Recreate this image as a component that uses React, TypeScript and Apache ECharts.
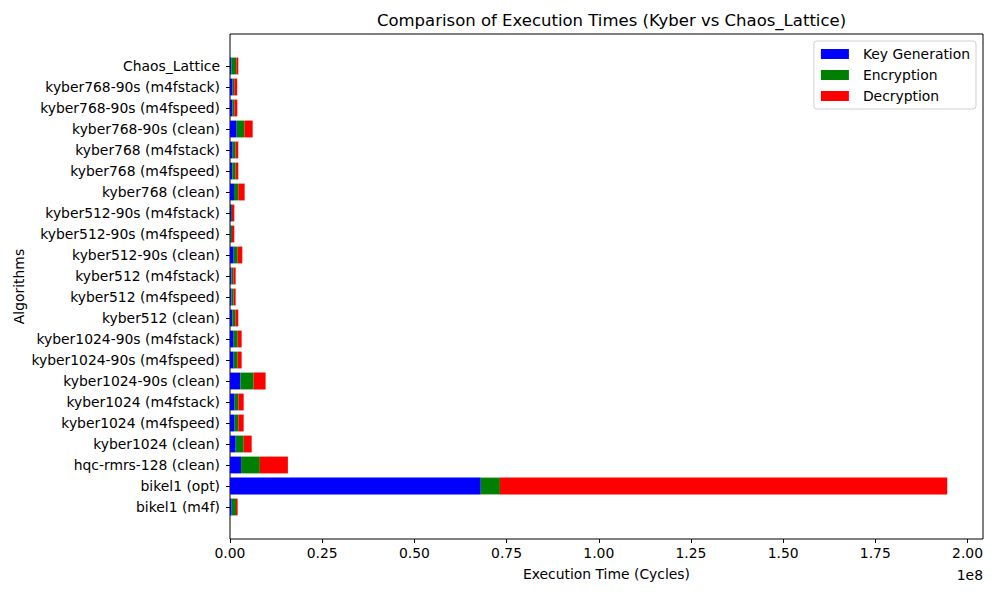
import React, { useEffect, useRef } from "react";
import * as echarts from "echarts";

// bottom to top, as matplotlib draws barh
const algorithms = [
  "bikel1 (m4f)",
  "bikel1 (opt)",
  "hqc-rmrs-128 (clean)",
  "kyber1024 (clean)",
  "kyber1024 (m4fspeed)",
  "kyber1024 (m4fstack)",
  "kyber1024-90s (clean)",
  "kyber1024-90s (m4fspeed)",
  "kyber1024-90s (m4fstack)",
  "kyber512 (clean)",
  "kyber512 (m4fspeed)",
  "kyber512 (m4fstack)",
  "kyber512-90s (clean)",
  "kyber512-90s (m4fspeed)",
  "kyber512-90s (m4fstack)",
  "kyber768 (clean)",
  "kyber768 (m4fspeed)",
  "kyber768 (m4fstack)",
  "kyber768-90s (clean)",
  "kyber768-90s (m4fspeed)",
  "kyber768-90s (m4fstack)",
  "Chaos_Lattice",
];

const keyGeneration = [
  450000, 68000000, 3000000, 1540000, 1260000, 1260000, 2800000, 1000000,
  1000000, 630000, 360000, 360000, 1000000, 180000, 270000, 1080000, 630000,
  720000, 1800000, 630000, 700000, 360000,
];
const encryption = [
  1170000, 5200000, 5100000, 2170000, 1000000, 1000000, 3600000, 1080000,
  1080000, 810000, 630000, 540000, 1080000, 360000, 270000, 1170000, 900000,
  800000, 2100000, 550000, 450000, 1350000,
];
const decryption = [
  450000, 121300000, 7600000, 2170000, 1450000, 1450000, 3250000, 1080000,
  1080000, 810000, 540000, 630000, 1260000, 630000, 630000, 1720000, 720000,
  720000, 2250000, 800000, 800000, 540000,
];

const xMax = 204200000;
const font = "DejaVu Sans";

const App: React.FC = () => {
  const chartRef = useRef<HTMLDivElement>(null);

  useEffect(() => {
    document.body.style.margin = "0";
    const chart = echarts.init(chartRef.current!, null, { renderer: "svg" });
    const bar = (name: string, data: number[], color: string) => ({
      name,
      type: "bar",
      stack: "total",
      xAxisIndex: 1,
      yAxisIndex: 1,
      barWidth: "80%",
      itemStyle: { color },
      data,
    });

    chart.setOption({
      animation: false,
      textStyle: { fontFamily: font },
      title: {
        text: "Comparison of Execution Times (Kyber vs Chaos_Lattice)",
        left: 606.5,
        top: 7,
        textAlign: "center",
        textStyle: { fontFamily: font, fontSize: 16.5, fontWeight: "normal", color: "#000" },
      },
      legend: {
        orient: "vertical",
        right: 19,
        top: 41,
        padding: [6, 6, 6, 7],
        itemGap: 7,
        itemWidth: 28,
        itemHeight: 10,
        borderColor: "#d0d0d0",
        borderWidth: 1,
        borderRadius: 3,
        icon: "rect",
        textStyle: { fontFamily: font, fontSize: 13.9, color: "#000", padding: [0, 0, 0, 9] },
        data: ["Key Generation", "Encryption", "Decryption"],
      },
      grid: [
        { left: 230, right: 12, top: 34, bottom: 53, show: true, borderColor: "#000", borderWidth: 1, backgroundColor: "transparent" },
        { left: 230, right: 12, top: 55.5, bottom: 74.5 },
      ],
      xAxis: [
        {
          type: "value",
          gridIndex: 0,
          min: 0,
          max: xMax,
          interval: 25000000,
          splitLine: { show: false },
          axisLine: { show: false },
          axisTick: { show: true, length: 4, lineStyle: { color: "#000" } },
          axisLabel: {
            margin: 7,
            fontFamily: font,
            fontSize: 13.9,
            color: "#000",
            showMaxLabel: false,
            formatter: (v: number) => (v / 1e8).toFixed(2),
          },
          name: "Execution Time (Cycles)",
          nameLocation: "middle",
          nameGap: 28,
          nameTextStyle: { fontFamily: font, fontSize: 13.9, color: "#000" },
        },
        {
          type: "value",
          gridIndex: 1,
          min: 0,
          max: xMax,
          show: false,
        },
      ],
      yAxis: [
        { type: "value", gridIndex: 0, show: false },
        {
          type: "category",
          gridIndex: 1,
          data: algorithms,
          axisLine: { show: false },
          axisTick: { show: true, alignWithLabel: true, length: 4, lineStyle: { color: "#000" } },
          axisLabel: { margin: 10, fontFamily: font, fontSize: 13.9, color: "#000", interval: 0 },
          splitLine: { show: false },
        },
      ],
      graphic: [
        {
          type: "text",
          x: 19,
          y: 286.5,
          rotation: Math.PI / 2,
          style: {
            text: "Algorithms",
            fontFamily: font,
            fontSize: 13.9,
            fill: "#000",
            align: "center",
            verticalAlign: "middle",
          },
        },
        {
          type: "text",
          x: 983,
          y: 575,
          style: {
            text: "1e8",
            fontFamily: font,
            fontSize: 13.9,
            fill: "#000",
            align: "right",
            verticalAlign: "middle",
          },
        },
      ],
      series: [
        bar("Key Generation", keyGeneration, "#0000ff"),
        bar("Encryption", encryption, "#008000"),
        bar("Decryption", decryption, "#ff0000"),
      ],
    });

    return () => {
      chart.dispose();
    };
  }, []);

  return <div ref={chartRef} style={{ width: "995px", height: "592px" }} />;
};

export default App;
